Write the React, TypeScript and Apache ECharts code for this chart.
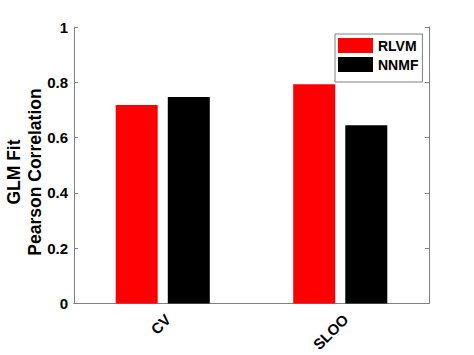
import React, { useEffect, useRef } from "react";
import * as echarts from "echarts";

const categories = ["CV", "SLOO"];
const rlvm = [0.718, 0.793];
const nnmf = [0.747, 0.645];
const yTicks = { min: 0, max: 1, interval: 0.2 };
const titleLines = ["GLM Fit", "Pearson Correlation"];

const FONT = "'Liberation Sans', Arial, Helvetica, sans-serif";
const AXIS = "#808080";

export default function App() {
  const ref = useRef<HTMLDivElement>(null);
  useEffect(() => {
    if (!ref.current) return;
    const chart = echarts.init(ref.current, null, { renderer: "svg" });
    chart.setOption({
      animation: false,
      backgroundColor: "#ffffff",
      textStyle: { fontFamily: FONT },
      grid: { left: 74, right: 45, top: 27, bottom: 51.5, containLabel: false },
      legend: {
        orient: "vertical",
        left: 335,
        top: 34,
        itemWidth: 35,
        itemHeight: 15,
        itemGap: 4,
        padding: [4, 4, 10, 3],
        borderColor: AXIS,
        borderWidth: 1,
        backgroundColor: "#fff",
        icon: "rect",
        textStyle: { fontFamily: FONT, fontWeight: "bold", fontSize: 14, color: "#000" },
        data: ["RLVM", "NNMF"],
      },
      xAxis: [
        {
          type: "category",
          data: categories,
          position: "bottom",
          axisLine: { lineStyle: { color: AXIS, width: 1 } },
          axisTick: { alignWithLabel: true, inside: true, length: 4, lineStyle: { color: AXIS } },
          axisLabel: {
            rotate: 45,
            margin: 8,
            align: "right",
            verticalAlign: "top",
            fontFamily: FONT,
            fontWeight: "bold",
            fontSize: 15,
            color: "#000",
          },
        },
        {
          type: "category",
          data: categories,
          position: "top",
          axisLine: { lineStyle: { color: AXIS, width: 1 } },
          axisTick: { alignWithLabel: true, inside: true, length: 4, lineStyle: { color: AXIS } },
          axisLabel: { show: false },
        },
      ],
      yAxis: [
        {
          type: "value",
          min: yTicks.min,
          max: yTicks.max,
          interval: yTicks.interval,
          position: "left",
          splitLine: { show: false },
          axisLine: { show: true, lineStyle: { color: AXIS, width: 1 } },
          axisTick: { show: true, inside: true, length: 4, lineStyle: { color: AXIS } },
          axisLabel: {
            margin: 6,
            fontFamily: FONT,
            fontWeight: "bold",
            fontSize: 15,
            color: "#000",
          },
        },
        {
          type: "value",
          min: yTicks.min,
          max: yTicks.max,
          interval: yTicks.interval,
          position: "right",
          splitLine: { show: false },
          axisLine: { show: true, lineStyle: { color: AXIS, width: 1 } },
          axisTick: { show: true, inside: true, length: 4, lineStyle: { color: AXIS } },
          axisLabel: { show: false },
        },
      ],
      series: [
        {
          name: "RLVM",
          type: "bar",
          data: rlvm,
          barWidth: 42,
          barGap: "24%",
          itemStyle: { color: "#ff0000" },
        },
        {
          name: "NNMF",
          type: "bar",
          data: nnmf,
          barWidth: 42,
          barGap: "24%",
          itemStyle: { color: "#000000" },
        },
      ],
      graphic: [
        {
          type: "text",
          x: 24.5,
          y: 172,
          rotation: Math.PI / 2,
          style: {
            text: titleLines.join("\n"),
            fontFamily: FONT,
            fontWeight: "bold",
            fontSize: 17.5,
            lineHeight: 21,
            fill: "#000",
            align: "center",
            verticalAlign: "middle",
          },
        },
      ],
    });
    return () => chart.dispose();
  }, []);
  return (
    <div
      ref={ref}
      style={{ position: "absolute", left: 0, top: 0, width: 474, height: 355 }}
    />
  );
}
